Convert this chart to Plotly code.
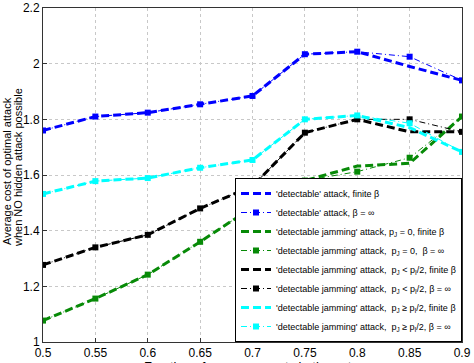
import plotly.graph_objects as go

x_vals = [0.5, 0.55, 0.6, 0.65, 0.7, 0.75, 0.8, 0.85, 0.9]

blue_finite = [1.76, 1.81, 1.824, 1.854, 1.884, 2.034, 2.043, 1.99, 1.94]
blue_inf = [1.76, 1.81, 1.824, 1.854, 1.884, 2.034, 2.043, 2.025, 1.94]
green_finite = [1.077, 1.156, 1.242, 1.36, 1.484, 1.58, 1.632, 1.642, 1.81]
green_inf = [1.077, 1.156, 1.242, 1.36, 1.484, 1.58, 1.612, 1.662, 1.81]
black_finite = [1.277, 1.34, 1.385, 1.48, 1.56, 1.752, 1.80, 1.755, 1.755]
black_inf = [1.277, 1.34, 1.385, 1.48, 1.56, 1.752, 1.80, 1.80, 1.755]
cyan_finite = [1.532, 1.578, 1.589, 1.626, 1.654, 1.80, 1.814, 1.77, 1.683]
cyan_inf = [1.532, 1.578, 1.589, 1.626, 1.654, 1.80, 1.814, 1.786, 1.683]

x_ticks = [0.5, 0.55, 0.6, 0.65, 0.7, 0.75, 0.8, 0.85, 0.9]
x_ticktext = ["0.5", "0.55", "0.6", "0.65", "0.7", "0.75", "0.8", "0.85", "0.9"]
y_ticks = [1, 1.2, 1.4, 1.6, 1.8, 2, 2.2]
y_ticktext = ["1", "1.2", "1.4", "1.6", "1.8", "2", "2.2"]

x_title = "Fraction of measurements in the set"
y_title_1 = "Average cost of optimal attack"
y_title_2 = "when NO hidden attack possible"

labels = [
    "'detectable' attack, finite β",
    "'detectable' attack, β = ∞",
    "'detectable jamming' attack, p<sub>J</sub> = 0, finite β",
    "'detectable jamming' attack,  p<sub>J</sub> = 0,  β = ∞",
    "'detectable jamming' attack,  p<sub>J</sub> < p<sub>I</sub>/2, finite β",
    "'detectable jamming' attack,  p<sub>J</sub> < p<sub>I</sub>/2, β = ∞",
    "'detectable jamming' attack,  p<sub>J</sub> ≥ p<sub>I</sub>/2, finite β",
    "'detectable jamming' attack,  p<sub>J</sub> ≥ p<sub>I</sub>/2, β = ∞",
]

series = [
    (blue_finite, "#0000ff", "finite"),
    (blue_inf, "#0000ff", "inf"),
    (green_finite, "#078a07", "finite"),
    (green_inf, "#078a07", "inf"),
    (black_finite, "#000000", "finite"),
    (black_inf, "#000000", "inf"),
    (cyan_finite, "#00ffff", "finite"),
    (cyan_inf, "#00ffff", "inf"),
]

fig = go.Figure()
for (vals, col, kind), name in zip(series, labels):
    if kind == "finite":
        fig.add_trace(go.Scatter(
            x=x_vals, y=vals, name=name, mode="lines",
            line=dict(color=col, width=3, dash="8px,4px"),
        ))
    else:
        fig.add_trace(go.Scatter(
            x=x_vals, y=vals, name=name, mode="lines+markers",
            line=dict(color=col, width=1, dash="6px,3px,1px,3px"),
            marker=dict(symbol="square", size=6, color=col),
        ))

axis_common = dict(
    showline=True, linecolor="#333333", linewidth=1, mirror=True,
    showgrid=True, gridcolor="#c8c8c8", griddash="dot", gridwidth=1,
    ticks="inside", ticklen=4, tickcolor="#333333",
    tickfont=dict(family="Liberation Sans, Arial", size=12, color="#000000"),
    zeroline=False, automargin=False,
)

PLOT_L, PLOT_W = 43, 419
PLOT_T, PLOT_H = 8, 334

fig.update_layout(
    width=474, height=363,
    margin=dict(l=PLOT_L, r=474 - PLOT_L - PLOT_W, t=PLOT_T, b=363 - PLOT_T - PLOT_H),
    paper_bgcolor="white", plot_bgcolor="white",
    font=dict(family="Liberation Sans, Arial", color="#000000"),
    xaxis=dict(range=[0.5, 0.9], tickvals=x_ticks, ticktext=x_ticktext, **axis_common),
    yaxis=dict(range=[1, 2.2], tickvals=y_ticks, ticktext=y_ticktext, **axis_common),
    legend=dict(x=1, xanchor="right", y=0, yanchor="bottom",
                bgcolor="white", bordercolor="#000000", borderwidth=1,
                font=dict(size=9, family="Liberation Sans, Arial"),
                tracegroupgap=0, itemwidth=30),
    showlegend=True,
)

def px_x(p):
    return (p - PLOT_L) / PLOT_W

def px_y(p):
    return (PLOT_T + PLOT_H - p) / PLOT_H

title_font = dict(size=11, family="Liberation Sans, Arial", color="#000000")
fig.add_annotation(text=y_title_1, xref="paper", yref="paper", x=px_x(7), y=px_y(171),
                   xanchor="center", yanchor="middle", textangle=-90, showarrow=False,
                   font=title_font, borderpad=0)
fig.add_annotation(text=y_title_2, xref="paper", yref="paper", x=px_x(18), y=px_y(168),
                   xanchor="center", yanchor="middle", textangle=-90, showarrow=False,
                   font=title_font, borderpad=0)
fig.add_annotation(text=x_title, xref="paper", yref="paper", x=px_x(248), y=px_y(358),
                   xanchor="center", yanchor="top", showarrow=False,
                   font=dict(size=13, family="Liberation Sans, Arial", color="#000000"), borderpad=0)

fig.write_html("out.html", config={"displayModeBar": False},
               post_script="document.body.style.margin='0';document.body.style.overflow='hidden';")
